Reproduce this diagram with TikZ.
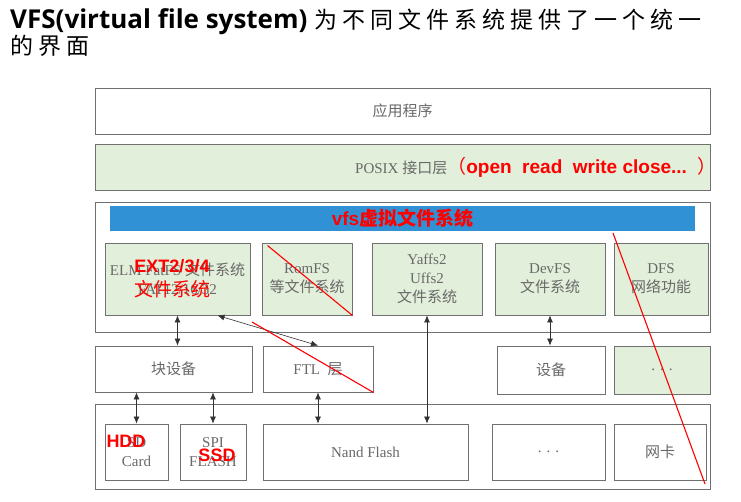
\documentclass[tikz,border=0pt]{standalone}
\usepackage{fontspec}
\usetikzlibrary{arrows.meta}
\setmainfont{Liberation Serif}
\newfontfamily\cjk{Noto Sans CJK SC}
\newfontfamily\cjktitle[LetterSpace=22]{Noto Sans CJK SC}
\newfontfamily\redsans{Liberation Sans}
\newfontfamily\titlesans{Open Sans}

\definecolor{BoxGray}{RGB}{112,112,112}
\definecolor{TxtGray}{RGB}{105,105,105}
\definecolor{LayerGreen}{RGB}{226,239,218}
\definecolor{VfsBlue}{RGB}{48,146,212}
\definecolor{MarkRed}{RGB}{255,0,0}

\newcommand{\zh}[1]{{\cjk #1}}

\tikzset{
  box/.style={draw=BoxGray,line width=0.9pt,inner sep=0pt,text=TxtGray,
    align=center,font=\fontsize{15}{19}\selectfont},
  gbox/.style={box,fill=LayerGreen},
  redtxt/.style={text=MarkRed,font=\fontsize{18}{20}\selectfont\redsans\bfseries,inner sep=0pt},
  redline/.style={draw=MarkRed,line width=1.1pt},
  dar/.style={{Latex[length=7pt,width=6pt]}-{Latex[length=7pt,width=6pt]},line width=0.6pt,black!80}
}

\begin{document}
\begin{tikzpicture}[x=1pt,y=-1pt]
  \useasboundingbox[fill=white] (0,0) rectangle (741,501);

  % title
  \node[anchor=base west,inner sep=0pt] (title) at (10,28)
    {\fontsize{26}{28}\selectfont\titlesans\bfseries VFS(virtual file system)
     \cjktitle\mdseries\fontsize{23}{25}\selectfont 为不同文件系统提供了一个统一};
  \node[anchor=base west,inner sep=0pt] (title2) at (10,54)
    {\cjktitle\fontsize{23}{25}\selectfont 的界面};

  % layers
  \node[box,minimum width=615,minimum height=46] (app) at (402.5,111) {\zh{应用程序}};
  \node[gbox,minimum width=615,minimum height=46] (posix) at (402.5,167.5) {};
  \node[box,minimum width=615,minimum height=130] (vfs) at (402.5,267.5) {};
  \node[draw=none,fill=VfsBlue,minimum width=585,minimum height=25,inner sep=0pt] (bar) at (402.5,218.5) {};

  % file systems
  \node[gbox,minimum width=145,minimum height=72] (elm) at (177.5,279)
    {ELM FatFS \zh{文件系统}\\FAT12/16/32};
  \node[gbox,minimum width=90,minimum height=72] (rom) at (307,279)
    {RomFS\\\zh{等文件系统}};
  \node[gbox,minimum width=110,minimum height=72] (yaffs) at (427,279)
    {Yaffs2\\Uffs2\\\zh{文件系统}};
  \node[gbox,minimum width=110,minimum height=72] (devfs) at (550,279)
    {DevFS\\\zh{文件系统}};
  \node[gbox,minimum width=94,minimum height=72] (dfs) at (661,279)
    {DFS\\\zh{网络功能}};

  % device layer
  \node[box,minimum width=157,minimum height=46] (blk) at (173.5,369) {\zh{块设备}};
  \node[box,minimum width=110,minimum height=46] (ftl) at (318,369) {FTL\ \ \zh{层}};
  \node[box,minimum width=108,minimum height=48] (dev) at (551,370) {\zh{设备}};
  \node[gbox,minimum width=96,minimum height=48] (more) at (662,370) {.\,\,.\,\,.};

  % hardware
  \node[box,minimum width=615,minimum height=85] (hw) at (402.5,446.5) {};
  \node[box,minimum width=63,minimum height=56] (sd) at (136.5,452) {SD\\Card};
  \node[box,minimum width=66,minimum height=56] (spi) at (213,452) {SPI\\FLASH};
  \node[box,minimum width=205,minimum height=56] (nand) at (365.5,452) {Nand Flash};
  \node[box,minimum width=113,minimum height=56] (hwmore) at (548.5,452) {.\,\,.\,\,.};
  \node[box,minimum width=92,minimum height=56] (nic) at (660,452) {\zh{网卡}};

  % links
  \draw[dar] (elm.south) -- (elm.south |- blk.north);
  \draw[dar] ([xshift=40]elm.south) -- (ftl.north);
  \draw[dar] (yaffs.south) -- (yaffs.south |- nand.north);
  \draw[dar] (devfs.south) -- (devfs.south |- dev.north);
  \draw[dar] (sd.north |- blk.south) -- (sd.north);
  \draw[dar] (spi.north |- blk.south) -- (spi.north);
  \draw[dar] (ftl.south) -- (ftl.south |- nand.north);

  % red notes
  \node[anchor=west,inner sep=0pt] (posixtxt) at (355,167)
    {\fontsize{15}{17}\selectfont\color{TxtGray}POSIX \zh{接口层}%
     {\color{MarkRed}\cjk\fontsize{19}{21}\selectfont （}%
     {\color{MarkRed}\redsans\bfseries\fontsize{19}{21}\selectfont open\ \ read\ \ write close...\ \ }%
     {\color{MarkRed}\cjk\fontsize{19}{21}\selectfont ）}};
  \node[redtxt,font=\fontsize{19}{21}\selectfont\redsans\bfseries] (vfstxt) at (bar) {vfs\cjk 虚拟文件系统};
  \node[redtxt] (ext) at (172,266) {EXT2/3/4};
  \node[redtxt,font=\fontsize{19}{21}\selectfont\cjk] (extzh) at (172,289) {文件系统};
  \node[redtxt] (hdd) at (126,441) {HDD};
  \node[redtxt] (ssd) at (217,455) {SSD};

  \coordinate (cut2a) at (252,322);
  \coordinate (cut3a) at (613,233);
  \coordinate (cut3b) at (705,484);
  \draw[redline] ([shift={(6,3)}]rom.north west) -- (rom.south east);
  \draw[redline] (cut2a) -- (ftl.south east);
  \draw[redline] (cut3a) -- (cut3b);
\end{tikzpicture}
\end{document}
